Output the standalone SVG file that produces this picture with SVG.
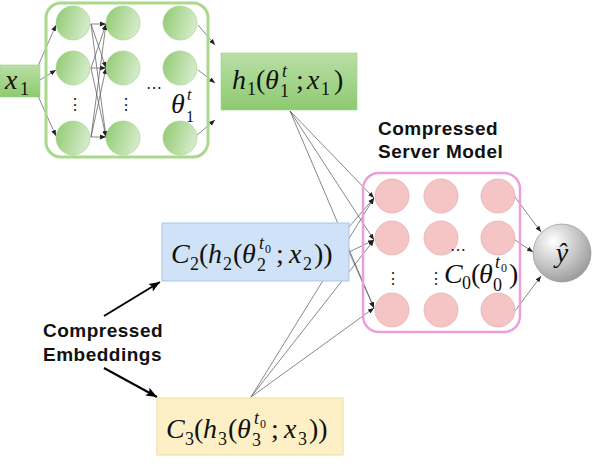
<svg xmlns="http://www.w3.org/2000/svg" width="595" height="471" viewBox="0 0 595 471">
<style>
.m{font-family:"Liberation Serif","DejaVu Serif",serif;font-size:28px;fill:#111}
.i{font-style:italic}
.s{font-size:18px}
.ss{font-size:12px}
.dots{font-family:"DejaVu Serif",serif;font-size:16px;fill:#222}
.lbl{font-family:"Liberation Sans",Arial,sans-serif;font-weight:bold;font-size:19px;letter-spacing:0.5px;fill:#111}
.thin{stroke:#555;stroke-width:0.7;fill:none;marker-end:url(#ah)}
.thick{stroke:#000;stroke-width:2;fill:none;marker-end:url(#ahb)}
.gc{fill:url(#gCirc);stroke:#9fd28a;stroke-width:0.6}
.pc{fill:#f5c5c5;stroke:#e6b0b0;stroke-width:0.8}
</style>
<defs>
<marker id="ah" viewBox="0 0 10 10" refX="10" refY="5" markerWidth="6" markerHeight="6" markerUnits="userSpaceOnUse" orient="auto"><path d="M0,1 L10,5 L0,9 z" fill="#222"/></marker>
<marker id="ahb" viewBox="0 0 10 10" refX="10" refY="5" markerWidth="11" markerHeight="11" markerUnits="userSpaceOnUse" orient="auto"><path d="M0,1 L10,5 L0,9 L2,5 z" fill="#000"/></marker>
<linearGradient id="gCirc" x1="0" y1="0" x2="1" y2="0.3"><stop offset="0" stop-color="#8fc96f"/><stop offset="1" stop-color="#d2eac6"/></linearGradient>
<linearGradient id="gBox" x1="0" y1="0" x2="0" y2="1"><stop offset="0" stop-color="#b9dfa6"/><stop offset="1" stop-color="#8dca70"/></linearGradient>
<radialGradient id="gY" cx="0.35" cy="0.3" r="0.75"><stop offset="0" stop-color="#ffffff"/><stop offset="1" stop-color="#9a9a9a"/></radialGradient>
</defs>

<g id="connectors">
<line class="thin" x1="38" y1="66" x2="56" y2="25"/>
<line class="thin" x1="40" y1="80" x2="56" y2="70"/>
<line class="thin" x1="38" y1="96" x2="56" y2="136"/>
<line class="thin" x1="91" y1="24" x2="106" y2="24"/>
<line class="thin" x1="91" y1="24" x2="106" y2="68"/>
<line class="thin" x1="91" y1="24" x2="106" y2="137"/>
<line class="thin" x1="91" y1="68" x2="106" y2="24"/>
<line class="thin" x1="91" y1="68" x2="106" y2="68"/>
<line class="thin" x1="91" y1="68" x2="106" y2="137"/>
<line class="thin" x1="91" y1="137" x2="106" y2="24"/>
<line class="thin" x1="91" y1="137" x2="106" y2="68"/>
<line class="thin" x1="91" y1="137" x2="106" y2="137"/>
<line class="thin" x1="198" y1="25" x2="215" y2="45"/>
<line class="thin" x1="198" y1="70" x2="215" y2="83"/>
<line class="thin" x1="197" y1="135" x2="215" y2="120"/>
<line class="thin" x1="290" y1="111" x2="374" y2="198"/>
<line class="thin" x1="290" y1="111" x2="374" y2="240"/>
<line class="thin" x1="290" y1="111" x2="374" y2="308"/>
<line class="thin" x1="349" y1="227" x2="374" y2="198"/>
<line class="thin" x1="349" y1="252" x2="374" y2="240"/>
<line class="thin" x1="349" y1="252" x2="374" y2="308"/>
<line class="thin" x1="251" y1="397" x2="374" y2="198"/>
<line class="thin" x1="251" y1="397" x2="374" y2="240"/>
<line class="thin" x1="251" y1="397" x2="374" y2="308"/>
<line class="thin" x1="515" y1="197" x2="541" y2="232"/>
<line class="thin" x1="515" y1="240" x2="533" y2="252"/>
<line class="thin" x1="515" y1="311" x2="541" y2="276"/>
<line class="thick" x1="104" y1="316" x2="160" y2="282"/>
<line class="thick" x1="104" y1="368" x2="157" y2="397"/>
</g>

<g id="client1-model">
<rect x="46" y="3" width="162" height="154" rx="15" fill="none" stroke="#aad98e" stroke-width="3"/>
<circle class="gc" cx="73" cy="23" r="17"/>
<circle class="gc" cx="73" cy="68" r="17"/>
<circle class="gc" cx="73" cy="138" r="17"/>
<circle class="gc" cx="123" cy="23" r="17"/>
<circle class="gc" cx="123" cy="68" r="17"/>
<circle class="gc" cx="123" cy="138" r="17"/>
<circle class="gc" cx="180" cy="23" r="17"/>
<circle class="gc" cx="180" cy="68" r="17"/>
<circle class="gc" cx="180" cy="138" r="17"/>
<text class="dots" x="67" y="110">⋮</text>
<text class="dots" x="118" y="110">⋮</text>
<text class="dots" x="146" y="93">⋯</text>
<text class="m" font-size="26"><tspan class="i" x="171" y="113">θ</tspan><tspan class="i" font-size="16" x="187" y="100">t</tspan><tspan font-size="16" x="186" y="122">1</tspan></text>
</g>

<g id="x1">
<rect x="0" y="65" width="40" height="32" fill="url(#gBox)" stroke="#9ed08a" stroke-width="0.6"/>
<text class="m"><tspan class="i" x="5" y="89">x</tspan><tspan class="s" x="20" y="95">1</tspan></text>
</g>

<g id="h1">
<rect x="221" y="53" width="136" height="57" fill="url(#gBox)" stroke="#9ed08a" stroke-width="0.6"/>
<text class="m"><tspan class="i" x="232" y="89">h</tspan><tspan class="s" x="247" y="95">1</tspan><tspan x="256" y="89">(</tspan><tspan class="i" x="265" y="89">θ</tspan><tspan class="s i" x="282" y="77">t</tspan><tspan class="s" x="280" y="97">1</tspan><tspan x="296" y="89">;</tspan><tspan class="i" x="307" y="89">x</tspan><tspan class="s" x="321" y="95">1</tspan><tspan x="334" y="89">)</tspan></text>
</g>

<g id="c2">
<rect x="162" y="223" width="187" height="58" fill="#cfe2f7" stroke="#a9c5e6" stroke-width="1"/>
<text class="m"><tspan class="i" x="171" y="263">C</tspan><tspan class="s" x="190" y="270">2</tspan><tspan x="199" y="263">(</tspan><tspan class="i" x="208" y="263">h</tspan><tspan class="s" x="223" y="270">2</tspan><tspan x="233" y="263">(</tspan><tspan class="i" x="242" y="263">θ</tspan><tspan class="s i" x="259" y="249">t</tspan><tspan class="ss" x="265" y="253">0</tspan><tspan class="s" x="257" y="271">2</tspan><tspan x="276" y="263">;</tspan><tspan class="i" x="289" y="263">x</tspan><tspan class="s" x="303" y="270">2</tspan><tspan x="314" y="263">))</tspan></text>
</g>

<g id="c3">
<rect x="157" y="398" width="186" height="57" fill="#fdf0c6" stroke="#efdc9e" stroke-width="1"/>
<text class="m"><tspan class="i" x="166" y="438">C</tspan><tspan class="s" x="185" y="445">3</tspan><tspan x="194" y="438">(</tspan><tspan class="i" x="203" y="438">h</tspan><tspan class="s" x="218" y="445">3</tspan><tspan x="228" y="438">(</tspan><tspan class="i" x="237" y="438">θ</tspan><tspan class="s i" x="254" y="424">t</tspan><tspan class="ss" x="260" y="428">0</tspan><tspan class="s" x="252" y="446">3</tspan><tspan x="271" y="438">;</tspan><tspan class="i" x="284" y="438">x</tspan><tspan class="s" x="298" y="445">3</tspan><tspan x="309" y="438">))</tspan></text>
</g>

<g id="server-model">
<text class="lbl" x="378" y="135">Compressed</text>
<text class="lbl" x="378" y="158">Server Model</text>
<rect x="363" y="173" width="157" height="159" rx="16" fill="none" stroke="#eb9fd9" stroke-width="2.5"/>
<circle class="pc" cx="392" cy="196" r="17"/>
<circle class="pc" cx="392" cy="238" r="17"/>
<circle class="pc" cx="392" cy="310" r="17"/>
<circle class="pc" cx="441" cy="196" r="17"/>
<circle class="pc" cx="441" cy="238" r="17"/>
<circle class="pc" cx="441" cy="310" r="17"/>
<circle class="pc" cx="498" cy="196" r="17"/>
<circle class="pc" cx="498" cy="238" r="17"/>
<circle class="pc" cx="498" cy="310" r="17"/>
<text class="dots" x="385" y="284">⋮</text>
<text class="dots" x="428" y="284">⋮</text>
<text class="dots" x="450" y="255">⋯</text>
<text class="m" font-size="26"><tspan class="i" x="444" y="283">C</tspan><tspan class="s" x="462" y="289">0</tspan><tspan x="471" y="283">(</tspan><tspan class="i" x="479" y="283">θ</tspan><tspan class="s i" x="495" y="268">t</tspan><tspan class="ss" x="501" y="272">0</tspan><tspan class="s" x="493" y="291">0</tspan><tspan x="509" y="283">)</tspan></text>
</g>

<g id="y-hat">
<circle cx="562" cy="253" r="29" fill="url(#gY)" stroke="#8a8a8a" stroke-width="0.6"/>
<text class="m i" x="562" y="262" text-anchor="middle">ŷ</text>
</g>

<g id="embeddings-label">
<text class="lbl" x="43" y="337">Compressed</text>
<text class="lbl" x="43" y="361">Embeddings</text>
</g>
</svg>
